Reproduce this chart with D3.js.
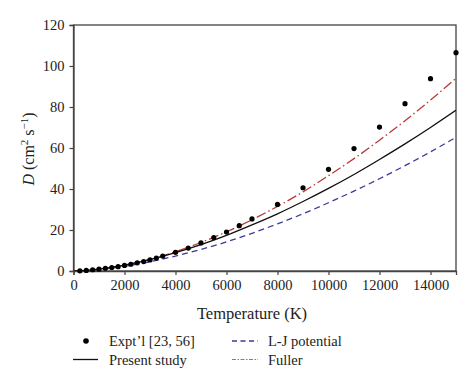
<!DOCTYPE html>
<html>
<head>
<meta charset="utf-8">
<script src="https://cdn.jsdelivr.net/npm/d3@7"></script>
<style>
  body { margin: 0; background: #fff; }
  svg text { font-family: "Liberation Serif", "DejaVu Serif", serif; fill: #222; }
</style>
</head>
<body>
<div id="chart"></div>
<script>
// experimental points (T in K, D in cm2/s)
var exptT = [250, 500, 750, 1000, 1250, 1500, 1750, 2000, 2250, 2500, 2750, 3000, 3250, 3500, 4000, 4500, 5000, 5500, 6000, 6500, 7000, 8000, 9000, 10000, 11000, 12000, 13000, 14000, 15000];
var exptD = [0.1, 0.3, 0.6, 0.9, 1.3, 1.7, 2.1, 2.7, 3.3, 4.0, 4.6, 5.4, 6.3, 7.3, 9.1, 11.2, 13.7, 16.3, 19.0, 22.1, 25.4, 32.5, 40.6, 49.6, 59.7, 70.2, 81.6, 93.8, 106.5];

// curves
var curveT = [0, 500, 1000, 2000, 3000, 4000, 5000, 6000, 7000, 8000, 9000, 10000, 11000, 12000, 13000, 14000, 15000];
var presentD = [0, 0.3, 0.92, 2.9, 5.6, 9.0, 12.9, 17.4, 22.5, 27.9, 33.9, 40.3, 47.1, 54.4, 62.0, 70.0, 78.4];
var ljD = [0, 0.23, 0.73, 2.3, 4.5, 7.3, 10.5, 14.2, 18.4, 23.0, 27.9, 33.3, 39.0, 45.0, 51.4, 58.1, 65.2];
var fullerD = [0, 0.26, 0.85, 2.8, 5.7, 9.4, 13.9, 19.1, 25.0, 31.5, 38.6, 46.5, 54.8, 63.8, 73.3, 83.4, 94.0];

var xTicks = [0, 2000, 4000, 6000, 8000, 10000, 12000, 14000];
var yTicks = [0, 20, 40, 60, 80, 100, 120];

const width = 474;
const height = 385;
const mLeft = 73.5, mRight = 456, mTop = 25, mBottom = 271;

const svg = d3.select('#chart').append('svg')
    .attr('width', width)
    .attr('height', height);

var x = d3.scaleLinear().domain([0, 15000]).range([mLeft, mRight]);
var y = d3.scaleLinear().domain([0, 120]).range([mBottom, mTop]);

// frame
svg.append('rect')
    .attr('x', mLeft).attr('y', mTop)
    .attr('width', mRight - mLeft).attr('height', mBottom - mTop)
    .attr('fill', 'none').attr('stroke', '#444').attr('stroke-width', 1.3);

var xAxis = svg.append('g')
    .attr('transform', 'translate(0,' + mBottom + ')')
    .call(d3.axisBottom(x).tickValues(xTicks).tickSize(4).tickPadding(5).tickFormat(d3.format('d')));
var yAxis = svg.append('g')
    .attr('transform', 'translate(' + mLeft + ',0)')
    .call(d3.axisLeft(y).tickValues(yTicks).tickSize(4).tickPadding(5));
[xAxis, yAxis].forEach(function(a){
    a.select('.domain').attr('stroke', '#444').attr('stroke-width', 1.3);
    a.selectAll('.tick line').attr('stroke', '#444').attr('stroke-width', 1.2);
    a.selectAll('.tick text').style('font-size', '14.5px').attr('fill', '#222');
});

var line = function(vals){
    return d3.line()
        .x((d, i) => x(curveT[i]))
        .y(d => y(d))
        .curve(d3.curveMonotoneX)(vals);
};

svg.append('clipPath').attr('id', 'plotclip')
    .append('rect').attr('x', mLeft).attr('y', mTop).attr('width', mRight - mLeft).attr('height', mBottom - mTop);

var plot = svg.append('g').attr('clip-path', 'url(#plotclip)');

plot.append('path').attr('d', line(ljD))
    .attr('fill', 'none').attr('stroke', '#3b3b96').attr('stroke-width', 1.3)
    .attr('stroke-dasharray', '6,4');
plot.append('path').attr('d', line(fullerD))
    .attr('fill', 'none').attr('stroke', '#b83a3a').attr('stroke-width', 1.3)
    .attr('stroke-dasharray', '10,3,1.5,3');
plot.append('path').attr('d', line(presentD))
    .attr('fill', 'none').attr('stroke', '#111').attr('stroke-width', 1.3);

svg.append('g').selectAll('circle')
    .data(exptT)
    .join('circle')
    .attr('cx', d => x(d))
    .attr('cy', (d, i) => y(exptD[i]))
    .attr('r', 2.6)
    .attr('fill', '#000');

// axis titles
svg.append('text')
    .attr('x', 252).attr('y', 319)
    .attr('text-anchor', 'middle')
    .style('font-size', '16.5px')
    .text('Temperature (K)');

var yl = svg.append('text')
    .attr('transform', 'translate(34,149) rotate(-90)')
    .attr('text-anchor', 'middle')
    .style('font-size', '16px');
yl.append('tspan').attr('font-style', 'italic').text('D');
yl.append('tspan').text(' (cm');
yl.append('tspan').attr('baseline-shift', 'super').style('font-size', '11px').text('2');
yl.append('tspan').text(' s');
yl.append('tspan').attr('baseline-shift', 'super').style('font-size', '11px').text('\u22121');
yl.append('tspan').text(')');

// legend
var leg = svg.append('g');
leg.append('circle').attr('cx', 86).attr('cy', 341).attr('r', 2.8).attr('fill', '#000');
leg.append('text').attr('x', 109).attr('y', 346).style('font-size', '14.5px').text('Expt\u2019l [23, 56]');
leg.append('line').attr('x1', 73).attr('x2', 98).attr('y1', 359.5).attr('y2', 359.5)
    .attr('stroke', '#111').attr('stroke-width', 1.3);
leg.append('text').attr('x', 109).attr('y', 364.5).style('font-size', '14.5px').text('Present study');
leg.append('line').attr('x1', 232).attr('x2', 258).attr('y1', 341).attr('y2', 341)
    .attr('stroke', '#3b3b96').attr('stroke-width', 1.3).attr('stroke-dasharray', '5,3.5');
leg.append('text').attr('x', 268).attr('y', 346).style('font-size', '14.5px').text('L-J potential');
leg.append('line').attr('x1', 232).attr('x2', 258).attr('y1', 359.5).attr('y2', 359.5)
    .attr('stroke', '#b86a5a').attr('stroke-width', 1.2).attr('stroke-dasharray', '4,1.5,1.5,1.5');
leg.append('text').attr('x', 268).attr('y', 364.5).style('font-size', '14.5px').text('Fuller');
</script>
</body>
</html>
